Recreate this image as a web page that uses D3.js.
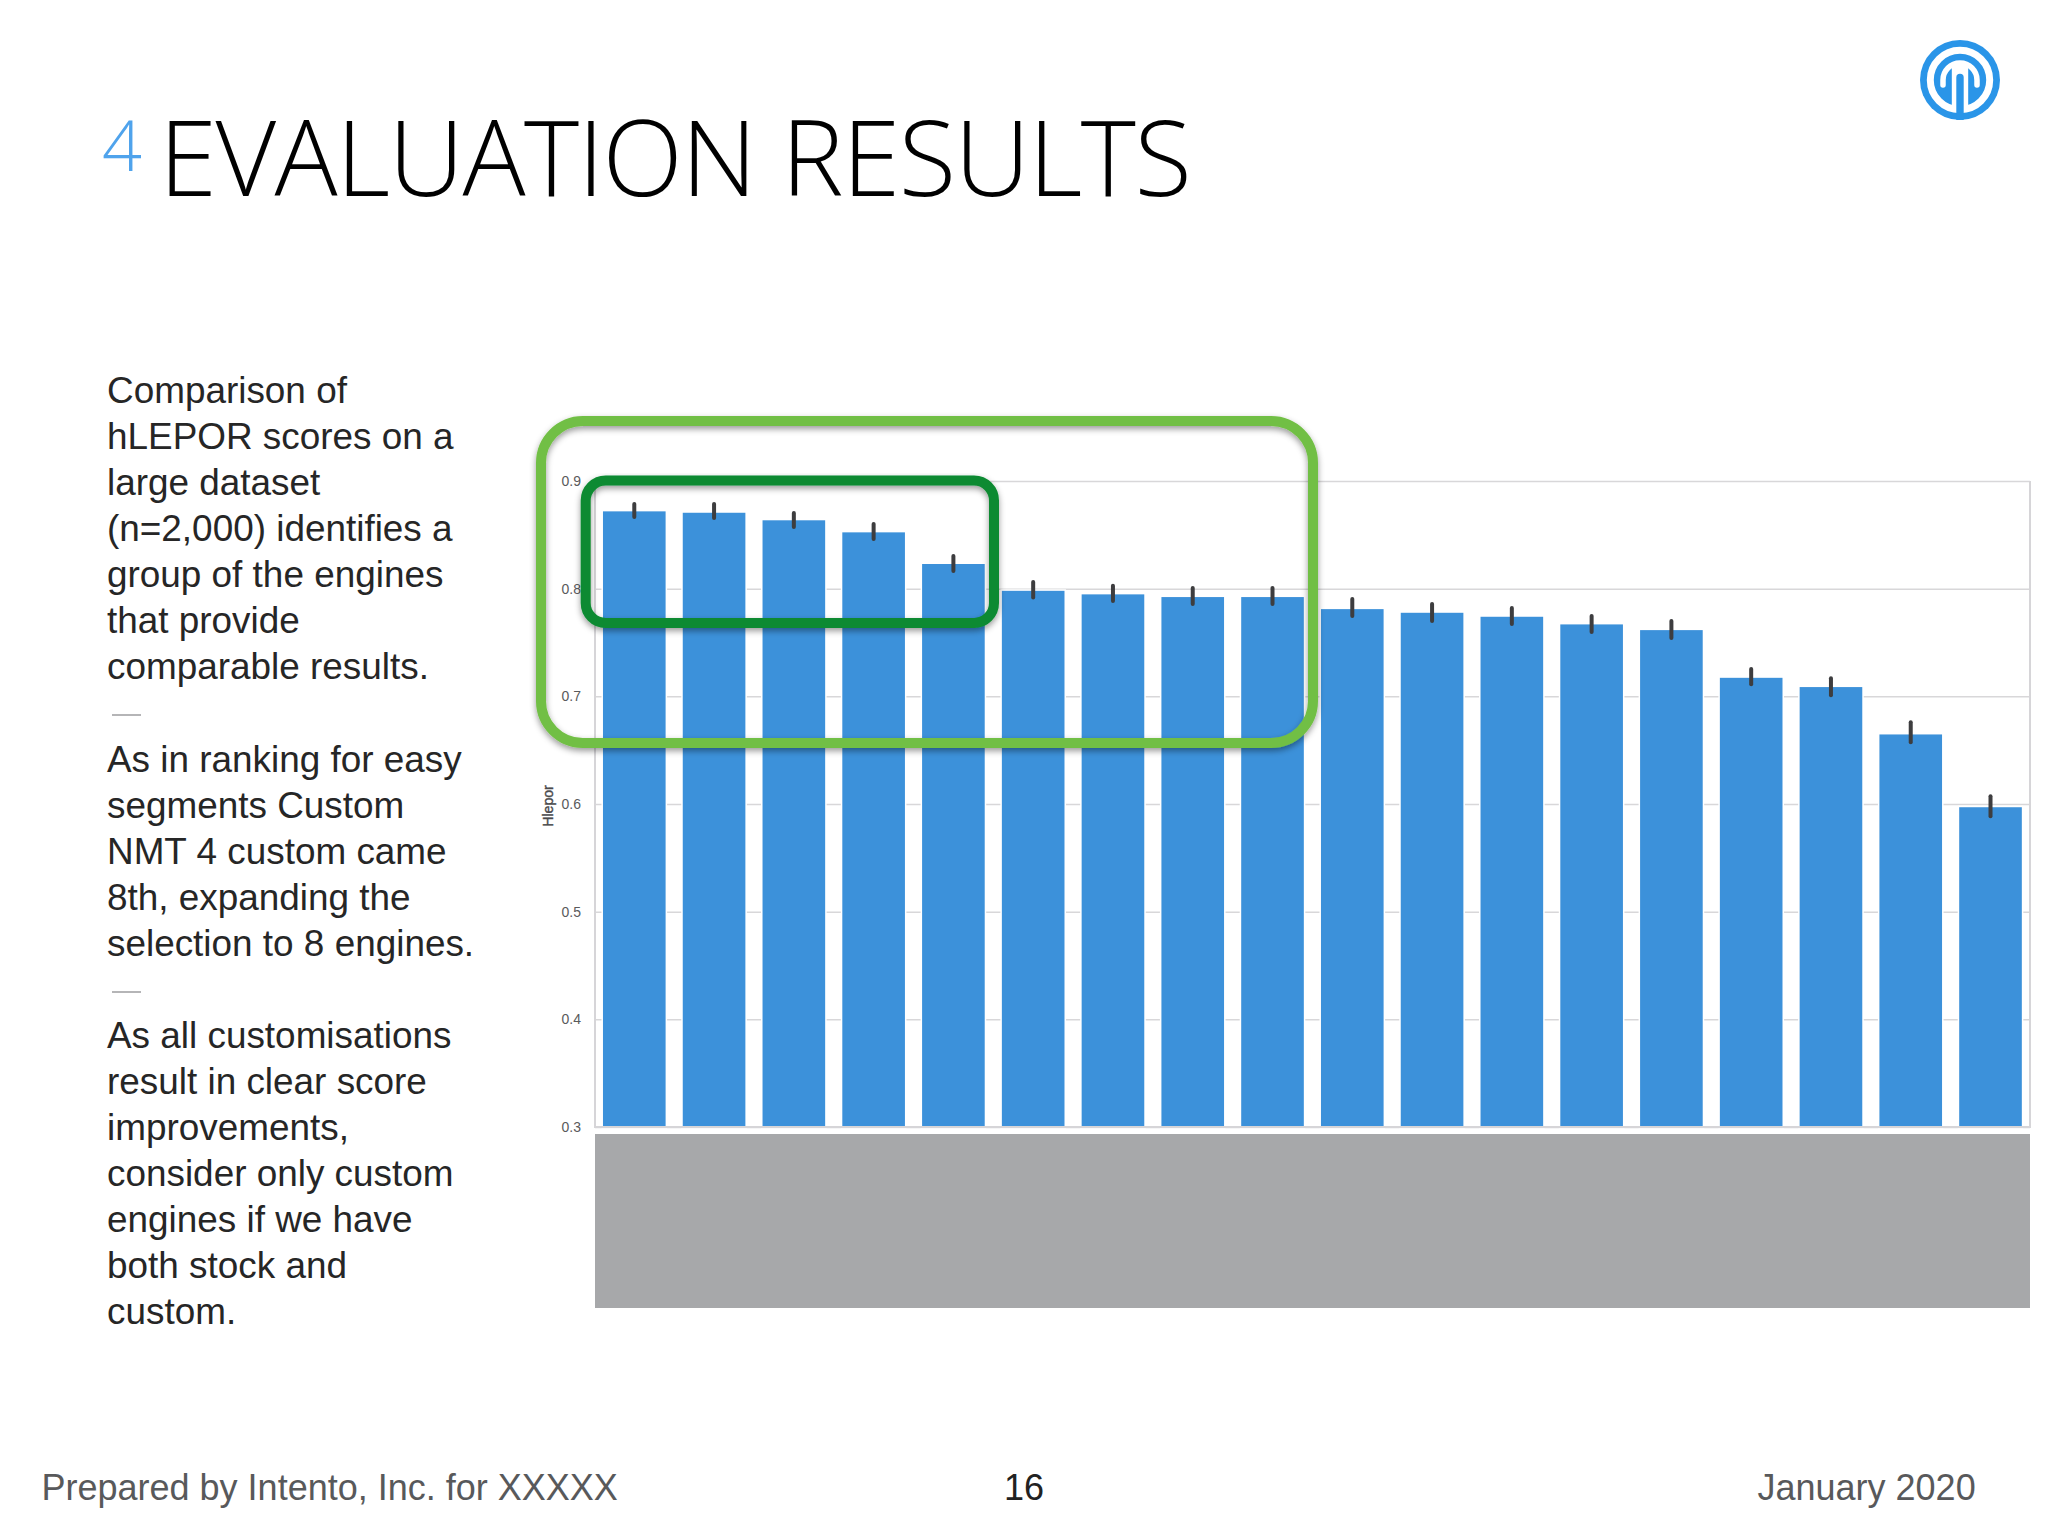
<!DOCTYPE html>
<html><head><meta charset="utf-8">
<script src="https://cdn.jsdelivr.net/npm/d3@7"></script>
<style>html,body{margin:0;padding:0;background:#fff}svg{display:block}</style>
</head><body><svg id="c" width="2048" height="1536"></svg>
<script>
const engines = d3.range(18).map(i => "engine " + (i + 1));
const scores = [.8718,.8705,.8635,.8523,.8229,.798,.7947,.7922,.7922,.781,.7776,.7739,.7668,.7615,.7172,.7086,.6646,.597];
const errHigh = [.8786,.8786,.8703,.86,.8303,.8061,.8027,.8006,.8006,.7903,.7857,.782,.7745,.7699,.7253,.7169,.676,.6073];
const errLow = [.8665,.8656,.8572,.8461,.8164,.7917,.7885,.7857,.7857,.7745,.7699,.7671,.7597,.7541,.7113,.7011,.6574,.5887];
const yTicks = [.3,.4,.5,.6,.7,.8,.9];
const yLabel = "Hlepor";
const para1 = ["Comparison of","hLEPOR scores on a","large dataset","(n=2,000) identifies a","group of the engines","that provide","comparable results."];
const para2 = ["As in ranking for easy","segments Custom","NMT 4 custom came","8th, expanding the","selection to 8 engines."];
const para3 = ["As all customisations","result in clear score","improvements,","consider only custom","engines if we have","both stock and","custom."];

const svg = d3.select("#c");
const defs = svg.append("defs");
const f = defs.append("filter").attr("id","sh").attr("x","-5%").attr("y","-5%").attr("width","110%").attr("height","115%");
f.append("feDropShadow").attr("dx",0).attr("dy",3).attr("stdDeviation",3).attr("flood-color","#000").attr("flood-opacity",.4);

const L = 595, R = 2030, T = 481, B = 1127;
const x = d3.scaleBand().domain(engines).range([594.4,2030.4]).paddingInner(.215).paddingOuter(.1075);
const y = d3.scaleLinear().domain([.3,.9]).range([B,T]);

// grid
const grid = svg.append("g").attr("transform",`translate(${L},0)`)
  .call(d3.axisLeft(y).tickValues(yTicks).tickSize(-(R-L)).tickFormat(""));
grid.select(".domain").remove();
grid.selectAll("line").attr("stroke","#d8d7d9").attr("stroke-width",1.5);

// bars
svg.append("g").selectAll("rect").data(engines).join("rect")
  .attr("x",d=>x(d)).attr("width",x.bandwidth())
  .attr("y",(d,i)=>y(scores[i])).attr("height",(d,i)=>B-y(scores[i]))
  .attr("fill","#3c91da").attr("stroke","#fff").attr("stroke-width",3).style("paint-order","stroke");

// frame
svg.append("path").attr("d",`M${L},${T}V${B}H${R}V${T}`).attr("fill","none").attr("stroke","#d6d5d8").attr("stroke-width",2);

// error bars
svg.append("g").selectAll("line").data(engines).join("line")
  .attr("x1",d=>x(d)+x.bandwidth()/2).attr("x2",d=>x(d)+x.bandwidth()/2)
  .attr("y1",(d,i)=>y(errHigh[i])).attr("y2",(d,i)=>y(errLow[i]))
  .attr("stroke","#3d3d3f").attr("stroke-width",4).attr("stroke-linecap","round");

// axis labels
const ax = svg.append("g").attr("transform",`translate(581,0)`)
  .call(d3.axisLeft(y).tickValues(yTicks).tickSize(0).tickPadding(0).tickFormat(d3.format(".1f")));
ax.select(".domain").remove();
ax.selectAll("text").attr("font-family","Liberation Sans").attr("font-size",14).attr("fill","#5a5a5c");
svg.append("text").attr("transform","translate(553,806) rotate(-90)").attr("text-anchor","middle")
  .attr("font-family","Liberation Sans").attr("font-size",14).attr("fill","#4a4a4c").attr("stroke","#4a4a4c").attr("stroke-width",.4).text(yLabel);

// redacted block
svg.append("rect").attr("x",L).attr("y",1134).attr("width",R-L).attr("height",174).attr("fill","#a7a8aa");

// annotation rounded boxes
svg.append("rect").attr("x",541).attr("y",421).attr("width",772).attr("height",322).attr("rx",42)
  .attr("fill","none").attr("stroke","#71bf44").attr("stroke-width",10).attr("filter","url(#sh)");
svg.append("rect").attr("x",585.7).attr("y",480.5).attr("width",408.3).attr("height",142.5).attr("rx",20)
  .attr("fill","none").attr("stroke","#0a8a30").attr("stroke-width",10).attr("filter","url(#sh)");

// heading
svg.append("text").attr("x",102).attr("y",170.7).attr("font-family","Open Sans").attr("font-weight",300).attr("font-size",70).attr("fill","#4fa3ec").text("4");
svg.append("text").attr("x",159).attr("y",195.7).attr("font-family","Open Sans").attr("font-weight",300).attr("font-size",105).attr("letter-spacing",-1.5).attr("fill","#000").text("EVALUATION RESULTS");

// body
function para(lines, y0){
  svg.append("g").selectAll("text").data(lines).join("text")
   .attr("x",107).attr("y",(d,i)=>y0+i*46.05)
   .attr("font-family","Liberation Sans").attr("font-size",36.9).attr("fill","#262626").text(d=>d);
}
para(para1,403); para(para2,771.5); para(para3,1047.5);
[715,992].forEach(v=>svg.append("line").attr("x1",112).attr("x2",141).attr("y1",v).attr("y2",v).attr("stroke","#b5b5b7").attr("stroke-width",2));

// footer
const ft = (t,xp,fill)=>svg.append("text").attr("x",xp).attr("y",1500).attr("font-family","Liberation Sans").attr("font-size",36).attr("fill",fill).text(t);
ft("Prepared by Intento, Inc. for XXXXX",41.5,"#58595b");
ft("16",1004,"#222");
ft("January 2020",1757.5,"#58595b");

// logo
const lg = svg.append("g").attr("transform","translate(1960,80)");
lg.append("circle").attr("r",40).attr("fill","#2a95e8");
lg.append("circle").attr("r",29.7).attr("fill","none").attr("stroke","#fff").attr("stroke-width",7);
lg.append("path").attr("d","M-17,5 V0 A17,17 0 0 1 17,0 V5").attr("fill","none").attr("stroke","#fff").attr("stroke-width",5.5).attr("stroke-linecap","round");
lg.append("path").attr("d","M-8.2,30 V-15 H8.2 V30 Z").attr("fill","#fff");
lg.append("path").attr("d","M-3.7,40 V-2.5 A3.7,3.7 0 0 1 3.7,-2.5 V40 Z").attr("fill","#2a95e8");
</script></body></html>
